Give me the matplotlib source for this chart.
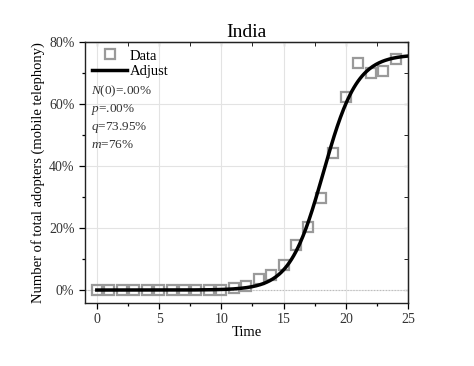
import matplotlib
matplotlib.use("Agg")
import matplotlib.pyplot as plt
import numpy as np
from matplotlib.ticker import MultipleLocator, PercentFormatter

plt.rcParams['font.family'] = ['Liberation Serif', 'DejaVu Serif']
plt.rcParams['mathtext.fontset'] = 'custom'
plt.rcParams['mathtext.rm'] = 'Liberation Serif'
plt.rcParams['mathtext.it'] = 'Liberation Serif:italic'

# data (percent of adopters)
years = list(range(25))
adopters = [0, 0, 0, 0, 0, 0, 0, 0, 0, 0, 0.1, 0.5, 1.4, 3.5, 4.8, 8.1,
            14.5, 20.3, 29.7, 44.3, 62.4, 73.1, 69.9, 70.7, 74.4]

# fitted curve parameters
q_fit = 0.7395
m_fit = 76
t_mid = 18.2

t = np.linspace(0, 25, 300)
fit = m_fit / (1 + np.exp(-q_fit * (t - t_mid)))

fig = plt.figure(figsize=(4.74, 3.66), dpi=100)
ax = fig.add_axes([0.179, 0.172, 0.682, 0.713])

ax.grid(True, color='#e3e3e3', lw=0.8)
ax.axhline(0, color='#bbbbbb', lw=0.8, ls=':')
ax.plot(years, adopters, 's', ms=7, mfc='none', mec='#9a9a9a', mew=1.6, label='Data', zorder=3)
ax.plot(t, fit, color='black', lw=2.5, label='Adjust', zorder=4)

ax.set_xlim(-0.96, 25)
ax.set_ylim(-4.2, 80)
ax.xaxis.set_major_locator(MultipleLocator(5))
ax.xaxis.set_minor_locator(MultipleLocator(2.5))
ax.yaxis.set_major_locator(MultipleLocator(20))
ax.yaxis.set_minor_locator(MultipleLocator(10))
ax.yaxis.set_major_formatter(PercentFormatter(decimals=0))
ax.tick_params(which='both', direction='out', labelsize=10, labelcolor='#333333', width=0.9)
ax.tick_params(which='major', length=4)
ax.tick_params(which='minor', length=2.5)

for side in ax.spines.values():
    side.set_linewidth(1.0)
    side.set_color('#222222')

# inward ticks on top and right
secx = ax.secondary_xaxis('top')
secx.xaxis.set_major_locator(MultipleLocator(5))
secx.xaxis.set_minor_locator(MultipleLocator(2.5))
secx.tick_params(which='both', direction='in', labeltop=False, length=3)
secy = ax.secondary_yaxis('right')
secy.yaxis.set_major_locator(MultipleLocator(20))
secy.yaxis.set_minor_locator(MultipleLocator(10))
secy.tick_params(which='both', direction='in', labelright=False, length=3)

ax.set_title('India', fontsize=14, pad=4)
ax.set_xlabel('Time', fontsize=10.5, labelpad=0)
ax.set_ylabel('Number of total adopters (mobile telephony)', fontsize=10.5, labelpad=3)

ax.legend(loc='upper left', frameon=False, fontsize=10.5, handlelength=2.4,
          borderaxespad=0.1, handletextpad=0.2, labelspacing=0.15,
          bbox_to_anchor=(0.0, 1.0))

params = [r'$N(0)$=.00%', r'$p$=.00%', r'$q$=73.95%', r'$m$=76%']
for i, s in enumerate(params):
    ax.text(0.02, 0.81 - i * 0.068, s, transform=ax.transAxes, fontsize=9.5,
            color='#333333', va='center')

fig.savefig('out.png', dpi=100)
